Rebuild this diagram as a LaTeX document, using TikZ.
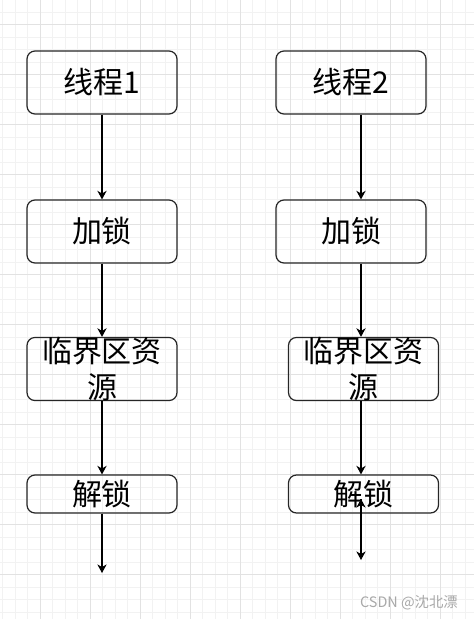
\documentclass[tikz,border=0pt]{standalone}
\usepackage{fontspec}
\newfontfamily\cjk{Noto Sans CJK SC}
\usepackage{xcolor}
\usepackage{tikz}
\usetikzlibrary{arrows.meta}

\definecolor{gridminor}{HTML}{F2F2F2}
\definecolor{gridmajor}{HTML}{E2E2E2}
\definecolor{markgray}{HTML}{A8A8A8}

\tikzset{
	blk/.style={draw=black!85,line width=0.9pt,rounded corners=6pt,
		minimum width=112.5pt,minimum height=47.25pt,inner sep=0pt,align=center,
		font=\cjk\fontsize{22.5}{26.5}\selectfont},
	blkflat/.style={blk,minimum height=28.5pt}
}

\begin{document}
\begin{tikzpicture}[x=0.75pt,y=-0.75pt]
	\useasboundingbox (0,0) rectangle (474,619);
	\fill[white] (0,0) rectangle (474,619);
	%
	%  GRID
	%
	\foreach \gx in {2.5,15,...,472.5}
		\draw[gridminor,line width=0.6pt] (\gx,0) -- (\gx,619);
	\foreach \gy in {12,24.5,...,612}
		\draw[gridminor,line width=0.6pt] (0,\gy) -- (474,\gy);
	\foreach \gx in {40,90,...,440}
		\draw[gridmajor,line width=0.7pt] (\gx,0) -- (\gx,619);
	\foreach \gy in {24.5,74.5,...,574.5}
		\draw[gridmajor,line width=0.7pt] (0,\gy) -- (474,\gy);
	%
	%  THREAD 1
	%
	\node[blk] (A) at (102,82.5) {线程1};
	\node[blk] (B) at (102,231.5) {加锁};
	\node[blk] (C) at (102,369) {临界区资\\源};
	\node[blkflat] (D) at (102,494) {解锁};
	\coordinate (LE) at (102,573);
	%
	%  THREAD 2
	%
	\node[blk] (E) at (351,82.5) {线程2};
	\node[blk] (F) at (351,231.5) {加锁};
	\node[blk] (G) at (363.5,369) {临界区资\\源};
	\node[blkflat] (H) at (363.5,494) {解锁};
	\coordinate (RX) at (361,0);
	\coordinate (RS) at (361,499);
	\coordinate (RE) at (361,560);
	%
	\node[font=\cjk\fontsize{10.8}{12}\selectfont,text=markgray] (W) at (409,603) {CSDN @沈北漂};
	%
	\path[->,>={Stealth[length=6.5pt,width=7pt]},line width=0.8pt,draw=black]
	(A) edge (B)
	(B) edge (C)
	(C) edge (D)
	(D.south) edge (LE)
	(E.south -| RX) edge (F.north -| RX)
	(F.south -| RX) edge (G.north -| RX)
	(G.south -| RX) edge (H.north -| RX)
	(RS) edge (RE);
\end{tikzpicture}
\end{document}
